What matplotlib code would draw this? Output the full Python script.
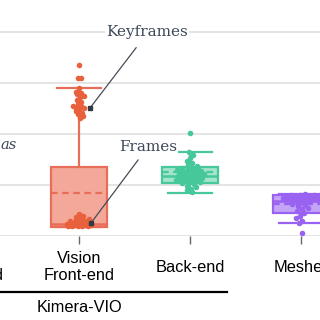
import matplotlib
matplotlib.use("Agg")
import matplotlib.pyplot as plt
from matplotlib.transforms import blended_transform_factory
import numpy as np

# ---------------- data ----------------
categories = ["IMU\nFront-end", "Vision\nFront-end", "Back-end", "Mesher"]
group_label = "Kimera-VIO"

vision_keyframes = [33.5, 31.0, 31.0, 29.0, 28.2, 28.0, 27.8, 27.5, 27.3, 26.7, 26.3,
                    25.9, 25.5, 25.5, 25.1, 25.1, 24.7, 24.5, 24.1, 23.9, 23.5, 23.1]
vision_frames = [1.9, 1.9, 2.0, 2.0, 2.0, 2.1, 2.1, 2.1, 2.2, 2.2, 2.3, 2.3, 2.4, 2.5,
                 2.6, 2.7, 2.8, 2.9, 3.0, 3.1, 3.3, 3.5, 3.7, 4.0, 4.4]
backend_vals = [20.2, 16.4, 15.9, 15.3, 14.8, 14.3, 14.0, 13.7, 13.5, 13.4, 13.2, 13.1,
                13.0, 12.9, 12.8, 12.7, 12.6, 12.5, 12.4, 12.3, 12.2, 12.1, 12.0, 11.9,
                11.8, 11.7, 11.6, 11.5, 11.4, 11.3, 11.2, 11.1, 11.0, 10.9, 10.8, 10.7,
                10.6, 10.5, 10.3, 10.1, 9.9, 9.6, 9.3, 9.0, 8.7]
mesher_vals = [8.2, 8.1, 8.0, 8.0, 7.9, 7.9, 7.8, 7.8, 7.7, 7.7, 7.6, 7.6, 7.5, 7.5,
               7.4, 7.3, 7.3, 7.2, 7.1, 7.0, 6.9, 6.8, 6.7, 6.6, 6.4, 6.2, 6.0, 5.8,
               5.5, 5.2, 4.9, 4.5, 4.0, 3.5, 3.0, 2.6, 0.6]

# box statistics: q1, median, q3, mean, lower whisker, upper whisker
box_q1 = [1.8, 10.4, 4.5]
box_med = [2.3, 11.7, 6.9]
box_q3 = [13.5, 13.5, 8.0]
box_mean = [8.4, 12.5, 6.3]
box_lo = [1.8, 8.5, 2.6]
box_hi = [29.0, 16.5, 8.3]
box_pos = [1, 2, 3]

edge_colors = ["#E96E5A", "#47C89A", "#9A62F0"]
fill_colors = ["#F3A899", "#A3E5CC", "#C3A4F7"]
point_colors = ["#E8603C", "#47C89A", "#9A62F0"]

# ---------------- figure ----------------
W, H = 320, 320
XLIM = (0.288, 3.171)
fig = plt.figure(figsize=(W / 100, H / 100), dpi=100)
ax = fig.add_axes([0, 84 / H, 1, 236 / H])
for s in ax.spines.values():
    s.set_visible(False)


def jitter(values, center, maxw, per):
    v = np.asarray(values, dtype=float)
    out = np.zeros(len(v))
    for k, val in enumerate(v):
        n = np.sum(np.abs(v - val) <= 0.6)
        hw = min(maxw, per * n)
        u = ((k + 1) * 0.6180339887) % 1.0
        out[k] = center + (2 * u - 1) * hw
    return out


stats = []
for i in range(3):
    stats.append(dict(q1=box_q1[i], med=box_med[i], q3=box_q3[i], mean=box_mean[i],
                      whislo=box_lo[i], whishi=box_hi[i], fliers=[]))
for i in range(3):
    ax.bxp([stats[i]], positions=[box_pos[i]], widths=0.5, capwidths=0.39,
           showmeans=True, meanline=True, patch_artist=True, showfliers=False,
           manage_ticks=False,
           boxprops=dict(facecolor=fill_colors[i], edgecolor=edge_colors[i], lw=1.6),
           whiskerprops=dict(color=edge_colors[i], lw=1.6),
           capprops=dict(color=edge_colors[i], lw=1.6),
           medianprops=dict(color=edge_colors[i], lw=1.8),
           meanprops=dict(color=edge_colors[i], lw=1.6, ls=(0, (3, 2))),
           zorder=2)

ms = 4.0
ax.plot(jitter(vision_keyframes, 1.0, 0.085, 0.012), vision_keyframes, "o", ms=ms,
        mec="none", color=point_colors[0], zorder=3)
ax.plot(jitter(vision_frames, 1.0, 0.12, 0.012), vision_frames, "o", ms=ms,
        mec="none", color=point_colors[0], zorder=3)
ax.plot(jitter(backend_vals, 2.0, 0.13, 0.012), backend_vals, "o", ms=ms,
        mec="none", color=point_colors[1], zorder=3)
ax.plot(jitter(mesher_vals, 3.0, 0.17, 0.014), mesher_vals, "o", ms=ms,
        mec="none", color=point_colors[2], zorder=3)

ax.set_yticks([0, 10, 20, 30, 40])
ax.tick_params(axis="y", left=False, labelleft=False)
ax.yaxis.grid(True, color="#E2E2E2", lw=1.3, zorder=0)
ax.set_axisbelow(True)
ax.set_xticks([1, 2, 3])
ax.set_xticklabels(categories[1:], fontsize=11.8, family="Liberation Sans",
                   linespacing=1.2)
ax.tick_params(axis="x", length=6, width=1, color="#666666", pad=16.5)
for lbl in ax.get_xticklabels():
    lbl.set_va("center")
ax.set_xlim(*XLIM)
ax.set_ylim(0, 46.27)

trans = blended_transform_factory(ax.transData, fig.transFigure)
# first category lies left of the visible area; its label is cut by the edge
ax.text(0, (H - 267) / H, categories[0], transform=trans, ha="center", va="center",
        fontsize=11.8, family="Liberation Sans", linespacing=1.2, clip_on=False)

# annotations
ann_col = "#3C4858"
bbox = dict(facecolor="white", edgecolor="none", pad=1.0)
ax.plot([1.514, 1.099], [36.9, 25.1], color="#444c55", lw=0.9, zorder=4)
ax.plot([1.099], [25.1], "s", ms=2.6, color="#333a44", zorder=5)
ax.text(1.613, 40.0, "Keyframes", family="DejaVu Serif", fontsize=11, color=ann_col,
        ha="center", va="center", bbox=bbox, zorder=6)
ax.plot([1.532, 1.108], [14.9, 2.55], color="#444c55", lw=0.9, zorder=4)
ax.plot([1.108], [2.55], "s", ms=2.6, color="#333a44", zorder=5)
ax.text(1.622, 17.45, "Frames", family="DejaVu Serif", fontsize=11, color=ann_col,
        ha="center", va="center", bbox=bbox, zorder=6)
ax.text(0.292, 17.8, "as", family="DejaVu Serif", style="italic", fontsize=10.5,
        color=ann_col, ha="left", va="center", zorder=6)

# group bracket
ax.plot([-0.33, 2.33], [(H - 292) / H] * 2, color="black", lw=1.6, transform=trans,
        clip_on=False)
ax.text(1.0, (H - 307) / H, group_label, transform=trans, ha="center", va="center",
        fontsize=11.8, family="Liberation Sans", clip_on=False)

fig.savefig("out.png", dpi=100)
